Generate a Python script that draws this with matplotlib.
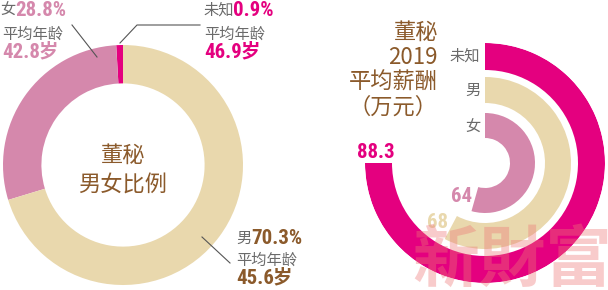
import matplotlib
matplotlib.use('Agg')
from matplotlib import pyplot as plt
from matplotlib import font_manager
import numpy as np

plt.rcParams['font.family'] = ['Noto Sans CJK SC', 'DejaVu Sans']

# left donut: share of board secretaries by gender
share_labels = ['未知', '女', '男']
share_values = [0.9, 28.8, 70.3]
share_ages = [46.9, 42.8, 45.6]

# right rings: average pay 2019 (10k yuan)
pay_labels = ['未知', '男', '女']
pay_values = [88.3, 68, 64]

MAGENTA = '#E4007F'
PINK = '#D588AC'
BEIGE = '#E9D8AD'
BROWN = '#8B5A2B'
GRAY = '#6A6A6A'
share_colors = [MAGENTA, PINK, BEIGE]
pay_colors = [MAGENTA, BEIGE, PINK]

W, H = 608, 290
fig = plt.figure(figsize=(W / 100, H / 100), dpi=100)


def rect(x0, y0, x1, y1):
    # pixel box (top-left origin) -> figure fraction
    return [x0 / W, 1 - y1 / H, (x1 - x0) / W, (y1 - y0) / H]


def px(x, y):
    return x / W, 1 - y / H


# condensed bold face for the numbers, if there is one
names = set(f.name for f in font_manager.fontManager.ttflist)
narrow = [n for n in ['Liberation Sans Narrow', 'Roboto Condensed', 'Open Sans Condensed'] if n in names]
num_font = dict(family=narrow + ['DejaVu Sans', 'Noto Sans CJK SC'], fontweight='bold',
                fontstretch='condensed')

################################ LEFT DONUT ################################
ax1 = fig.add_axes(rect(3, 45, 243, 285))
ax1.pie(share_values, colors=share_colors, startangle=90, counterclock=True,
        wedgeprops=dict(width=0.32, linewidth=0))
ax1.set_xlim(-1, 1)
ax1.set_ylim(-1, 1)

fig.text(*px(123, 155), '董秘', ha='center', va='center', fontsize=16, color=BROWN)
fig.text(*px(123, 185), '男女比例', ha='center', va='center', fontsize=16, color=BROWN)


def number(x, y, s, color, size=15, ha='left'):
    # digits in the bold face, 岁 in the CJK face
    t = fig.text(*px(x, y), s.rstrip('岁'), ha=ha, va='center', fontsize=size, color=color, **num_font)
    if s.endswith('岁'):
        fig.canvas.draw()
        bb = t.get_window_extent()
        fig.text((bb.x1 - 1) / W, 1 - y / H, '岁', ha='left', va='center', fontsize=size - 1,
                 color=color, fontweight='bold')


# female label
fig.text(*px(0, 10), share_labels[1], ha='left', va='center', fontsize=11, color=GRAY)
number(15, 10, '%.1f%%' % share_values[1], PINK)
fig.text(*px(2, 34), '平均年龄', ha='left', va='center', fontsize=11, color=GRAY)
number(2, 52, '%.1f岁' % share_ages[1], PINK)

# unknown label
fig.text(*px(204, 10), share_labels[0], ha='left', va='center', fontsize=11, color=GRAY)
number(233, 10, '%.1f%%' % share_values[0], MAGENTA)
fig.text(*px(204, 34), '平均年龄', ha='left', va='center', fontsize=11, color=GRAY)
number(204, 52, '%.1f岁' % share_ages[0], MAGENTA)

# male label
fig.text(*px(236, 238), share_labels[2], ha='left', va='center', fontsize=11, color=GRAY)
number(251, 238, '%.1f%%' % share_values[2], BROWN)
fig.text(*px(236, 260), '平均年龄', ha='left', va='center', fontsize=11, color=GRAY)
number(236, 278, '%.1f岁' % share_ages[2], BROWN)

################################ RIGHT RINGS ################################
ax2 = fig.add_axes(rect(365, 43, 605, 283), projection='polar')
ax2.set_theta_zero_location('N')
ax2.set_theta_direction(-1)
full = max(pay_values) / 0.75  # largest value spans three quarters
ring_bottoms = [93, 60, 25]
ring_heights = [27, 26, 25]
for v, b, h, c in zip(pay_values, ring_bottoms, ring_heights, pay_colors):
    ax2.bar(0, h, width=v / full * 2 * np.pi, bottom=b, align='edge', color=c, linewidth=0)
ax2.set_ylim(0, 120)
ax2.axis('off')

title_lines = ['董秘', '2019', '平均薪酬', '（万元）']
for i, t in enumerate(title_lines):
    fig.text(*px(438, 32 + 25 * i), t, ha='right', va='center', fontsize=16, color=BROWN)

fig.text(*px(465, 56), pay_labels[0], ha='center', va='center', fontsize=11, color=GRAY)
fig.text(*px(473, 90), pay_labels[1], ha='center', va='center', fontsize=11, color=GRAY)
fig.text(*px(473, 127), pay_labels[2], ha='center', va='center', fontsize=11, color=GRAY)

number(376, 152, '%.1f' % pay_values[0], MAGENTA, size=15, ha='center')
number(437, 222, '%d' % pay_values[1], BEIGE, size=15, ha='center')
number(462, 197, '%d' % pay_values[2], PINK, size=15, ha='center')

################################ OVERLAY ################################
ov = fig.add_axes([0, 0, 1, 1])
ov.set_xlim(0, W)
ov.set_ylim(H, 0)
ov.axis('off')
ov.patch.set_alpha(0)
ov.plot([72, 97], [25, 57], color='#555555', lw=0.8)
ov.plot([120, 137, 200], [43, 25, 25], color='#555555', lw=0.8)
ov.plot([202, 230], [237, 263], color='#555555', lw=0.8)

# watermark
fig.text(*px(412, 228), '新財富', ha='left', va='top', fontsize=48, color='#EE7777',
         alpha=0.38, family=['Noto Sans CJK TC'], fontweight='bold')

fig.savefig('out.png', dpi=100)
